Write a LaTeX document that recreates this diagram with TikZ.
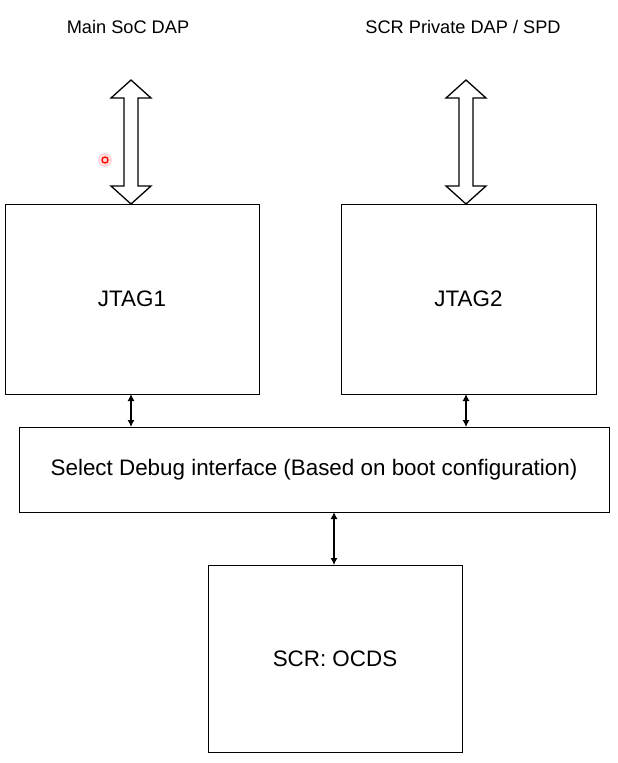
\documentclass[tikz,border=0pt]{standalone}
\usepackage{fontspec}
\setmainfont{Liberation Sans}
\usetikzlibrary{arrows.meta}
\begin{document}
\begin{tikzpicture}[x=1pt,y=-1pt,
  box/.style={draw,line width=1pt,inner sep=0pt,font=\fontsize{22.4}{26}\selectfont},
  lab/.style={font=\fontsize{18.2}{22}\selectfont},
  dbl/.style={draw,line width=1.3pt,fill=white},
  sm/.style={line width=1.1pt,{Latex[length=7pt,width=7pt]}-{Latex[length=7pt,width=7pt]}}]
\useasboundingbox (0,0) rectangle (618,763);
\node[box,minimum width=254pt,minimum height=190pt] (j1) at (132,299) {JTAG1};
\node[box,minimum width=255pt,minimum height=190pt] (j2) at (468.5,299) {JTAG2};
\node[box,minimum width=590pt,minimum height=85pt] (sel) at (314,469.5) {Select Debug interface (Based on boot configuration)};
\node[box,minimum width=254pt,minimum height=187pt] (scr) at (335,658.5) {SCR: OCDS};
\node[lab] (t1) at (128,27) {Main SoC DAP};
\node[lab] (t2) at (463,27) {SCR Private DAP / SPD};
\foreach \c in {131,466}{
  \draw[dbl] (\c,80) -- (\c+20,98) -- (\c+7,98) -- (\c+7,186) -- (\c+20,186) -- (\c,204)
    -- (\c-20,186) -- (\c-7,186) -- (\c-7,98) -- (\c-20,98) -- cycle;
}
\coordinate (a1) at (131,394); \coordinate (b1) at (131,427);
\coordinate (a2) at (466,394); \coordinate (b2) at (466,427);
\coordinate (a3) at (334,512); \coordinate (b3) at (334,565);
\draw[sm] (a1) -- (b1);
\draw[sm] (a2) -- (b2);
\draw[sm] (a3) -- (b3);
\fill[red!25,opacity=0.6] (105,160) circle (7);
\draw[red,line width=1.3pt] (105,160) circle (3);
\end{tikzpicture}
\end{document}
